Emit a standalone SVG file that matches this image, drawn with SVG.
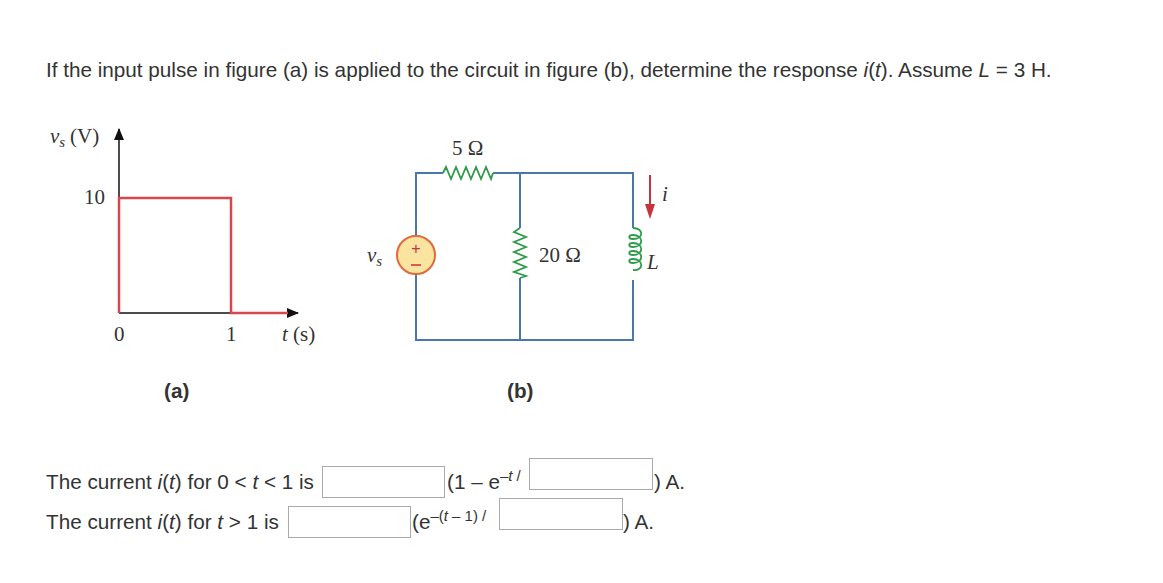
<svg xmlns="http://www.w3.org/2000/svg" width="1163" height="583" viewBox="0 0 1163 583">
<style>
.s{font-family:"Liberation Sans",Arial,sans-serif;font-size:20.7px;fill:#333}
.m{font-family:"Liberation Serif","Times New Roman",serif;font-size:21px;fill:#333}
.w{fill:none;stroke:#4a78a8;stroke-width:2}
.g{fill:none;stroke:#2e9a4a;stroke-width:1.8}
.box{fill:#fff;stroke:#aaa;stroke-width:1}
</style>
<defs>
<marker id="ah" markerWidth="12" markerHeight="10" refX="11" refY="5" orient="auto" markerUnits="userSpaceOnUse"><path d="M0,0L12,5L0,10z" fill="#111"/></marker>
</defs>
<rect width="1163" height="583" fill="#fff"/>
<text class="s" x="46" y="77">If the input pulse in figure (a) is applied to the circuit in figure (b), determine the response <tspan font-style="italic">i</tspan>(<tspan font-style="italic">t</tspan>). Assume <tspan font-style="italic">L</tspan> = 3 H.</text>

<g id="graph">
<line x1="119" y1="313" x2="119" y2="129" stroke="#111" stroke-width="1.5" marker-end="url(#ah)"/>
<line x1="119" y1="313" x2="298" y2="313" stroke="#111" stroke-width="1.5" marker-end="url(#ah)"/>
<polyline points="119,313 119,198 231,198 231,313 288,313" fill="none" stroke="#d9464b" stroke-width="2.5"/>
<text class="m" x="50" y="143" font-style="italic">v<tspan font-size="15" dy="4">s</tspan></text>
<text class="m" x="70" y="143">(V)</text>
<text class="m" x="84" y="204">10</text>
<text class="m" x="114" y="341">0</text>
<text class="m" x="226" y="341">1</text>
<text class="m" x="282" y="341"><tspan font-style="italic">t</tspan> (s)</text>
<text class="s" x="164" y="398" font-weight="bold">(a)</text>
</g>

<g id="wires">
<polyline class="w" points="443,173 416,173 416,235"/>
<polyline class="w" points="416,275 416,340 633,340 633,280"/>
<polyline class="w" points="493,173 633,173 633,228"/>
<line class="w" x1="520" y1="173" x2="520" y2="228"/>
<line class="w" x1="520" y1="278" x2="520" y2="340"/>
</g>
<g id="r5">
<polyline class="g" points="443,173 446,167 451,179 456,167 461,179 466,167 471,179 476,167 481,179 486,167 491,179 493,173"/>
<text class="m" x="452" y="155">5 Ω</text>
</g>
<g id="r20">
<polyline class="g" points="520,228 514,232 526,237 514,242 526,247 514,252 526,257 514,262 526,267 514,272 526,276 520,278"/>
<text class="m" x="539" y="262">20 Ω</text>
</g>
<g id="ind">
<path class="g" d="M633,228 c11,0 11,11 0,11 c-5,0 -5,-4 0,-4 c11,0 11,12 0,12 c-5,0 -5,-4 0,-4 c11,0 11,12 0,12 c-5,0 -5,-4 0,-4 c11,0 11,12 0,12 c-5,0 -5,-4 0,-4 c11,0 11,12 0,11"/>
<text class="m" x="647" y="269" font-style="italic" font-size="24">L</text>
<line x1="650" y1="175" x2="650" y2="207" stroke="#c8323a" stroke-width="2"/>
<path d="M645,204L655,204L650,219z" fill="#c8323a"/>
<text class="m" x="662" y="201" font-style="italic" font-size="18">i</text>
</g>
<g id="src">
<circle cx="416" cy="255" r="19" fill="#fbe3a0" stroke="#e06a3a" stroke-width="2"/>
<text x="416" y="254" text-anchor="middle" font-family="Liberation Sans,sans-serif" font-size="16" fill="#c8323a">+</text>
<line x1="411" y1="265" x2="421" y2="265" stroke="#c8323a" stroke-width="1.5"/>
<text class="m" x="367" y="262" font-style="italic">v<tspan font-size="15" dy="4">s</tspan></text>
<text class="s" x="507" y="398" font-weight="bold">(b)</text>
</g>

<g id="q">
<text class="s" x="46" y="489">The current <tspan font-style="italic">i</tspan>(<tspan font-style="italic">t</tspan>) for 0 &lt; <tspan font-style="italic">t</tspan> &lt; 1 is</text>
<rect class="box" x="322.5" y="466.5" width="122" height="31"/>
<text class="s" x="447" y="489">(1 – e<tspan font-size="15" dy="-8">–<tspan font-style="italic">t</tspan> /</tspan></text>
<rect class="box" x="529.5" y="458.5" width="123" height="31"/>
<text class="s" x="654" y="489">) A.</text>
<text class="s" x="46" y="529">The current <tspan font-style="italic">i</tspan>(<tspan font-style="italic">t</tspan>) for <tspan font-style="italic">t</tspan> &gt; 1 is</text>
<rect class="box" x="288.5" y="506.5" width="122" height="31"/>
<text class="s" x="412" y="529">(e<tspan font-size="15" dy="-8">–(<tspan font-style="italic">t</tspan> – 1) /</tspan></text>
<rect class="box" x="499.5" y="498.5" width="123" height="31"/>
<text class="s" x="623" y="529">) A.</text>
</g>
</svg>
